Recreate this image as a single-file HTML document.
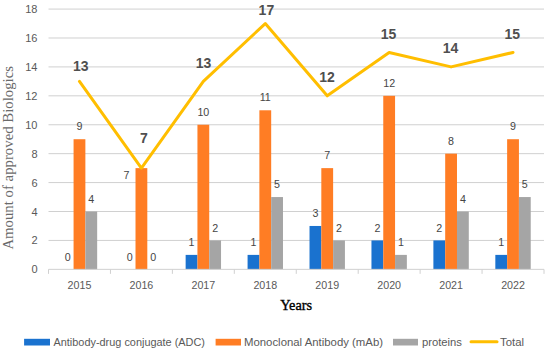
<!DOCTYPE html><html><head><meta charset="utf-8"><style>html,body{margin:0;padding:0;background:#fff;}svg{display:block;}text{font-family:"Liberation Sans",sans-serif;}</style></head><body>
<svg width="550" height="351" viewBox="0 0 550 351">
<rect width="550" height="351" fill="#fff"/>
<line x1="48.5" x2="544.0" y1="240.43" y2="240.43" stroke="#d0d0d0" stroke-width="1"/>
<line x1="48.5" x2="544.0" y1="211.51" y2="211.51" stroke="#d0d0d0" stroke-width="1"/>
<line x1="48.5" x2="544.0" y1="182.59" y2="182.59" stroke="#d0d0d0" stroke-width="1"/>
<line x1="48.5" x2="544.0" y1="153.67" y2="153.67" stroke="#d0d0d0" stroke-width="1"/>
<line x1="48.5" x2="544.0" y1="124.75" y2="124.75" stroke="#d0d0d0" stroke-width="1"/>
<line x1="48.5" x2="544.0" y1="95.83" y2="95.83" stroke="#d0d0d0" stroke-width="1"/>
<line x1="48.5" x2="544.0" y1="66.91" y2="66.91" stroke="#d0d0d0" stroke-width="1"/>
<line x1="48.5" x2="544.0" y1="37.99" y2="37.99" stroke="#d0d0d0" stroke-width="1"/>
<line x1="48.5" x2="544.0" y1="9.07" y2="9.07" stroke="#d0d0d0" stroke-width="1"/>
<text x="37.5" y="273.35" font-size="11" fill="#595959" text-anchor="end">0</text>
<text x="37.5" y="244.43" font-size="11" fill="#595959" text-anchor="end">2</text>
<text x="37.5" y="215.51" font-size="11" fill="#595959" text-anchor="end">4</text>
<text x="37.5" y="186.59" font-size="11" fill="#595959" text-anchor="end">6</text>
<text x="37.5" y="157.67" font-size="11" fill="#595959" text-anchor="end">8</text>
<text x="37.5" y="128.75" font-size="11" fill="#595959" text-anchor="end">10</text>
<text x="37.5" y="99.83" font-size="11" fill="#595959" text-anchor="end">12</text>
<text x="37.5" y="70.91" font-size="11" fill="#595959" text-anchor="end">14</text>
<text x="37.5" y="41.99" font-size="11" fill="#595959" text-anchor="end">16</text>
<text x="37.5" y="13.07" font-size="11" fill="#595959" text-anchor="end">18</text>
<rect x="73.57" y="139.21" width="11.8" height="130.14" fill="#ff7d24"/>
<rect x="85.37" y="211.51" width="11.8" height="57.84" fill="#a5a5a5"/>
<rect x="135.51" y="168.13" width="11.8" height="101.22" fill="#ff7d24"/>
<rect x="185.64" y="254.89" width="11.8" height="14.46" fill="#1a72cf"/>
<rect x="197.44" y="124.75" width="11.8" height="144.60" fill="#ff7d24"/>
<rect x="209.24" y="240.43" width="11.8" height="28.92" fill="#a5a5a5"/>
<rect x="247.58" y="254.89" width="11.8" height="14.46" fill="#1a72cf"/>
<rect x="259.38" y="110.29" width="11.8" height="159.06" fill="#ff7d24"/>
<rect x="271.18" y="197.05" width="11.8" height="72.30" fill="#a5a5a5"/>
<rect x="309.52" y="225.97" width="11.8" height="43.38" fill="#1a72cf"/>
<rect x="321.32" y="168.13" width="11.8" height="101.22" fill="#ff7d24"/>
<rect x="333.12" y="240.43" width="11.8" height="28.92" fill="#a5a5a5"/>
<rect x="371.46" y="240.43" width="11.8" height="28.92" fill="#1a72cf"/>
<rect x="383.26" y="95.83" width="11.8" height="173.52" fill="#ff7d24"/>
<rect x="395.06" y="254.89" width="11.8" height="14.46" fill="#a5a5a5"/>
<rect x="433.39" y="240.43" width="11.8" height="28.92" fill="#1a72cf"/>
<rect x="445.19" y="153.67" width="11.8" height="115.68" fill="#ff7d24"/>
<rect x="456.99" y="211.51" width="11.8" height="57.84" fill="#a5a5a5"/>
<rect x="495.33" y="254.89" width="11.8" height="14.46" fill="#1a72cf"/>
<rect x="507.13" y="139.21" width="11.8" height="130.14" fill="#ff7d24"/>
<rect x="518.93" y="197.05" width="11.8" height="72.30" fill="#a5a5a5"/>
<line x1="48.5" x2="544.0" y1="269.35" y2="269.35" stroke="#d0d0d0" stroke-width="1"/>
<line x1="48.50" x2="48.50" y1="269.35" y2="273.85" stroke="#d0d0d0" stroke-width="1"/>
<line x1="110.44" x2="110.44" y1="269.35" y2="273.85" stroke="#d0d0d0" stroke-width="1"/>
<line x1="172.38" x2="172.38" y1="269.35" y2="273.85" stroke="#d0d0d0" stroke-width="1"/>
<line x1="234.31" x2="234.31" y1="269.35" y2="273.85" stroke="#d0d0d0" stroke-width="1"/>
<line x1="296.25" x2="296.25" y1="269.35" y2="273.85" stroke="#d0d0d0" stroke-width="1"/>
<line x1="358.19" x2="358.19" y1="269.35" y2="273.85" stroke="#d0d0d0" stroke-width="1"/>
<line x1="420.12" x2="420.12" y1="269.35" y2="273.85" stroke="#d0d0d0" stroke-width="1"/>
<line x1="482.06" x2="482.06" y1="269.35" y2="273.85" stroke="#d0d0d0" stroke-width="1"/>
<line x1="544.00" x2="544.00" y1="269.35" y2="273.85" stroke="#d0d0d0" stroke-width="1"/>
<text x="67.67" y="260.55" font-size="10.7" fill="#454545" text-anchor="middle">0</text>
<text x="79.47" y="130.41" font-size="10.7" fill="#454545" text-anchor="middle">9</text>
<text x="91.27" y="202.71" font-size="10.7" fill="#454545" text-anchor="middle">4</text>
<text x="129.61" y="260.55" font-size="10.7" fill="#454545" text-anchor="middle">0</text>
<text x="126.50" y="178.80" font-size="10.7" fill="#454545" text-anchor="middle">7</text>
<text x="153.21" y="260.55" font-size="10.7" fill="#454545" text-anchor="middle">0</text>
<text x="191.54" y="246.09" font-size="10.7" fill="#454545" text-anchor="middle">1</text>
<text x="203.34" y="115.95" font-size="10.7" fill="#454545" text-anchor="middle">10</text>
<text x="215.14" y="231.63" font-size="10.7" fill="#454545" text-anchor="middle">2</text>
<text x="253.48" y="246.09" font-size="10.7" fill="#454545" text-anchor="middle">1</text>
<text x="265.28" y="101.49" font-size="10.7" fill="#454545" text-anchor="middle">11</text>
<text x="277.08" y="188.25" font-size="10.7" fill="#454545" text-anchor="middle">5</text>
<text x="315.42" y="217.17" font-size="10.7" fill="#454545" text-anchor="middle">3</text>
<text x="327.22" y="159.33" font-size="10.7" fill="#454545" text-anchor="middle">7</text>
<text x="339.02" y="231.63" font-size="10.7" fill="#454545" text-anchor="middle">2</text>
<text x="377.36" y="231.63" font-size="10.7" fill="#454545" text-anchor="middle">2</text>
<text x="389.16" y="87.03" font-size="10.7" fill="#454545" text-anchor="middle">12</text>
<text x="400.96" y="246.09" font-size="10.7" fill="#454545" text-anchor="middle">1</text>
<text x="439.29" y="231.63" font-size="10.7" fill="#454545" text-anchor="middle">2</text>
<text x="451.09" y="144.87" font-size="10.7" fill="#454545" text-anchor="middle">8</text>
<text x="462.89" y="202.71" font-size="10.7" fill="#454545" text-anchor="middle">4</text>
<text x="501.23" y="246.09" font-size="10.7" fill="#454545" text-anchor="middle">1</text>
<text x="513.03" y="130.41" font-size="10.7" fill="#454545" text-anchor="middle">9</text>
<text x="524.83" y="188.25" font-size="10.7" fill="#454545" text-anchor="middle">5</text>
<polyline points="79.47,81.37 141.41,168.13 203.34,81.37 265.28,23.53 327.22,95.83 389.16,52.45 451.09,66.91 513.03,52.45" fill="none" stroke="#ffbe00" stroke-width="3" stroke-linejoin="round" stroke-linecap="round"/>
<text x="80.8" y="70.8" font-size="14" font-weight="bold" fill="#4f4f4f" text-anchor="middle">13</text>
<text x="143.9" y="142.6" font-size="14" font-weight="bold" fill="#4f4f4f" text-anchor="middle">7</text>
<text x="203.6" y="67.6" font-size="14" font-weight="bold" fill="#4f4f4f" text-anchor="middle">13</text>
<text x="266.4" y="15.4" font-size="14" font-weight="bold" fill="#4f4f4f" text-anchor="middle">17</text>
<text x="327.0" y="81.9" font-size="14" font-weight="bold" fill="#4f4f4f" text-anchor="middle">12</text>
<text x="388.6" y="39.0" font-size="14" font-weight="bold" fill="#4f4f4f" text-anchor="middle">15</text>
<text x="450.5" y="53.2" font-size="14" font-weight="bold" fill="#4f4f4f" text-anchor="middle">14</text>
<text x="512.2" y="39.0" font-size="14" font-weight="bold" fill="#4f4f4f" text-anchor="middle">15</text>
<text x="79.47" y="288.6" font-size="10.7" fill="#595959" text-anchor="middle">2015</text>
<text x="141.41" y="288.6" font-size="10.7" fill="#595959" text-anchor="middle">2016</text>
<text x="203.34" y="288.6" font-size="10.7" fill="#595959" text-anchor="middle">2017</text>
<text x="265.28" y="288.6" font-size="10.7" fill="#595959" text-anchor="middle">2018</text>
<text x="327.22" y="288.6" font-size="10.7" fill="#595959" text-anchor="middle">2019</text>
<text x="389.16" y="288.6" font-size="10.7" fill="#595959" text-anchor="middle">2020</text>
<text x="451.09" y="288.6" font-size="10.7" fill="#595959" text-anchor="middle">2021</text>
<text x="513.03" y="288.6" font-size="10.7" fill="#595959" text-anchor="middle">2022</text>
<text x="280.2" y="310.4" font-size="14.3" fill="#000" stroke="#000" stroke-width="0.35" textLength="32" lengthAdjust="spacingAndGlyphs" style="font-family:'Liberation Serif',serif">Years</text>
<text transform="translate(12.8,249.6) rotate(-90)" x="0" y="0" font-size="13.8" fill="#6a6a6a" textLength="183.6" lengthAdjust="spacingAndGlyphs" style="font-family:'Liberation Serif',serif">Amount of approved Biologics</text>
<rect x="24.1" y="338.8" width="25.9" height="6.7" fill="#1a72cf"/>
<text x="53.5" y="345.5" font-size="10.8" fill="#595959" textLength="151.5" lengthAdjust="spacingAndGlyphs">Antibody-drug conjugate (ADC)</text>
<rect x="215.6" y="338.8" width="25.4" height="6.7" fill="#ff7d24"/>
<text x="244" y="345.5" font-size="10.8" fill="#595959" textLength="139" lengthAdjust="spacingAndGlyphs">Monoclonal Antibody (mAb)</text>
<rect x="393" y="338.8" width="25" height="6.7" fill="#a5a5a5"/>
<text x="421.9" y="345.5" font-size="10.8" fill="#595959" textLength="40.1" lengthAdjust="spacingAndGlyphs">proteins</text>
<line x1="471" x2="497" y1="341.8" y2="341.8" stroke="#ffbe00" stroke-width="3" stroke-linecap="round"/>
<text x="500" y="345.5" font-size="10.8" fill="#595959" textLength="24" lengthAdjust="spacingAndGlyphs">Total</text>
</svg></body></html>
